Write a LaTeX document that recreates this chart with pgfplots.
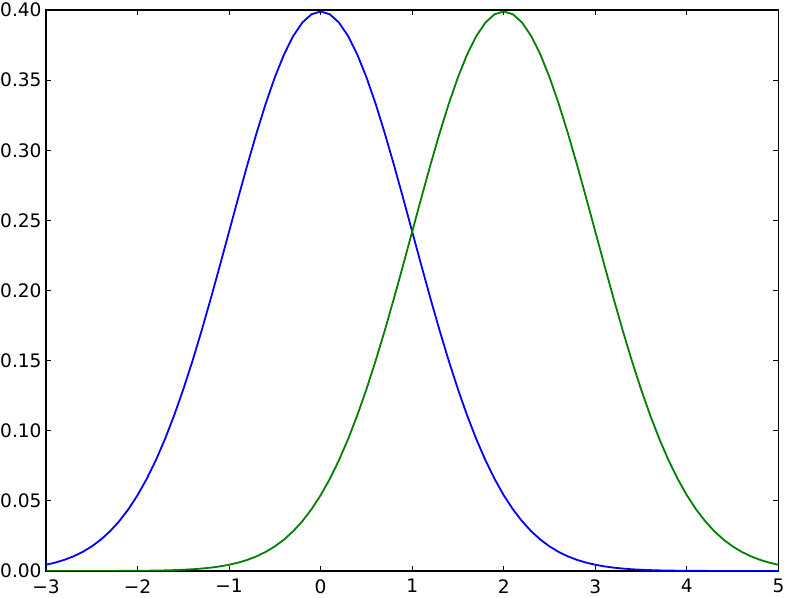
\documentclass[border=0pt]{standalone}
\usepackage{pgfplots}
\pgfplotsset{compat=1.18}
\usepackage{fontspec}
\setmainfont{DejaVu Sans}
\definecolor{mplblue}{rgb}{0,0,1}
\definecolor{mplgreen}{rgb}{0,0.5,0}
\begin{document}
\begin{tikzpicture}
\begin{axis}[
    scale only axis,
    width=366.5pt, height=280.7pt,
    xmin=-3, xmax=5,
    ymin=0, ymax=0.40,
    xtick={-3,-2,-1,0,1,2,3,4,5},
    xticklabels={−3,−2,−1,0,1,2,3,4,5},
    ytick={0,0.05,0.10,0.15,0.20,0.25,0.30,0.35,0.40},
    yticklabels={0.00,0.05,0.10,0.15,0.20,0.25,0.30,0.35,0.40},
    tick align=inside,
    major tick length=2.5pt,
    tick style={black, line width=0.5pt},
    axis line style={line width=0.6pt},
    ticklabel style={font=\fontsize{9.3}{11}\selectfont, inner sep=0pt, outer sep=0pt},
    xticklabel style={yshift=-4.2pt},
    yticklabel style={xshift=-2.2pt},
]
% standard normal, mean 0
\addplot[mplblue, line width=0.9pt] coordinates {
(-3.0,0.004432)(-2.9,0.005953)(-2.8,0.007915)(-2.7,0.010421)(-2.6,0.013583)
(-2.5,0.017528)(-2.4,0.022395)(-2.3,0.028327)(-2.2,0.035475)(-2.1,0.043984)
(-2.0,0.053991)(-1.9,0.065616)(-1.8,0.078950)(-1.7,0.094049)(-1.6,0.110921)
(-1.5,0.129518)(-1.4,0.149727)(-1.3,0.171369)(-1.2,0.194186)(-1.1,0.217852)
(-1.0,0.241971)(-0.9,0.266085)(-0.8,0.289692)(-0.7,0.312254)(-0.6,0.333225)
(-0.5,0.352065)(-0.4,0.368270)(-0.3,0.381388)(-0.2,0.391043)(-0.1,0.396953)
(0.0,0.398942)(0.1,0.396953)(0.2,0.391043)(0.3,0.381388)(0.4,0.368270)
(0.5,0.352065)(0.6,0.333225)(0.7,0.312254)(0.8,0.289692)(0.9,0.266085)
(1.0,0.241971)(1.1,0.217852)(1.2,0.194186)(1.3,0.171369)(1.4,0.149727)
(1.5,0.129518)(1.6,0.110921)(1.7,0.094049)(1.8,0.078950)(1.9,0.065616)
(2.0,0.053991)(2.1,0.043984)(2.2,0.035475)(2.3,0.028327)(2.4,0.022395)
(2.5,0.017528)(2.6,0.013583)(2.7,0.010421)(2.8,0.007915)(2.9,0.005953)
(3.0,0.004432)(3.1,0.003267)(3.2,0.002384)(3.3,0.001723)(3.4,0.001232)
(3.5,0.000873)(3.6,0.000612)(3.7,0.000425)(3.8,0.000292)(3.9,0.000199)
(4.0,0.000134)(4.1,0.000089)(4.2,0.000059)(4.3,0.000039)(4.4,0.000025)
(4.5,0.000016)(4.6,0.000010)(4.7,0.000006)(4.8,0.000004)(4.9,0.000002)
(5.0,0.000001)
};
% normal, mean 2
\addplot[mplgreen, line width=0.9pt] coordinates {
(-3.0,0.000001)(-2.9,0.000002)(-2.8,0.000004)(-2.7,0.000006)(-2.6,0.000010)
(-2.5,0.000016)(-2.4,0.000025)(-2.3,0.000039)(-2.2,0.000059)(-2.1,0.000089)
(-2.0,0.000134)(-1.9,0.000199)(-1.8,0.000292)(-1.7,0.000425)(-1.6,0.000612)
(-1.5,0.000873)(-1.4,0.001232)(-1.3,0.001723)(-1.2,0.002384)(-1.1,0.003267)
(-1.0,0.004432)(-0.9,0.005953)(-0.8,0.007915)(-0.7,0.010421)(-0.6,0.013583)
(-0.5,0.017528)(-0.4,0.022395)(-0.3,0.028327)(-0.2,0.035475)(-0.1,0.043984)
(0.0,0.053991)(0.1,0.065616)(0.2,0.078950)(0.3,0.094049)(0.4,0.110921)
(0.5,0.129518)(0.6,0.149727)(0.7,0.171369)(0.8,0.194186)(0.9,0.217852)
(1.0,0.241971)(1.1,0.266085)(1.2,0.289692)(1.3,0.312254)(1.4,0.333225)
(1.5,0.352065)(1.6,0.368270)(1.7,0.381388)(1.8,0.391043)(1.9,0.396953)
(2.0,0.398942)(2.1,0.396953)(2.2,0.391043)(2.3,0.381388)(2.4,0.368270)
(2.5,0.352065)(2.6,0.333225)(2.7,0.312254)(2.8,0.289692)(2.9,0.266085)
(3.0,0.241971)(3.1,0.217852)(3.2,0.194186)(3.3,0.171369)(3.4,0.149727)
(3.5,0.129518)(3.6,0.110921)(3.7,0.094049)(3.8,0.078950)(3.9,0.065616)
(4.0,0.053991)(4.1,0.043984)(4.2,0.035475)(4.3,0.028327)(4.4,0.022395)
(4.5,0.017528)(4.6,0.013583)(4.7,0.010421)(4.8,0.007915)(4.9,0.005953)
(5.0,0.004432)
};
\coordinate (sw) at (rel axis cs:0,0);
\coordinate (ne) at (rel axis cs:1,1);
\end{axis}
% tight crop round the axis box, as in the reference
\pgfresetboundingbox
\path[use as bounding box] ([shift={(-23pt,-13.5pt)}]sw) rectangle ([shift={(3.3pt,5pt)}]ne);
\end{tikzpicture}
\end{document}
